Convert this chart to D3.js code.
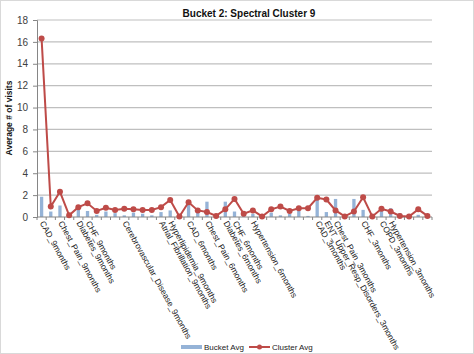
<!DOCTYPE html>
<html>
<head>
<meta charset="utf-8">
<script src="https://cdn.jsdelivr.net/npm/d3@7"></script>
<style>
  body { margin: 0; background: #fff; }
  svg { font-family: "Liberation Sans", Arial, sans-serif; }
</style>
</head>
<body>
<div class="cluster-chart"></div>
<script>

// category names (blank ones have no label on the axis)
var categories = [
  "CAD_9months", "", "Chest_Pain_9months", "", "Diabetes_9months", "CHF_9months", "", "", "",
  "Cerebrovascular_Disease_9months", "", "", "", "Atrial_Fibrillation_9months", "Hyperlipidemia_9months",
  "", "CAD_6months", "", "Chest_Pain_6months", "", "Diabetes_6months", "CHF_6months", "",
  "Hypertension_6months", "", "", "", "", "", "", "CAD_3months", "ENT_Upper_Resp_Disorders_3months",
  "Chest_Pain_3months", "", "", "CHF_3months", "", "COPD_3months", "Hypertension_3months", "", "", "", ""
];

var bucketAvg = [
  1.85, 0.5, 1.05, 0.1, 0.75, 0.55, 0.2, 0.5, 0.35, 0.15, 0.4, 0.3, 0.15, 0.45, 0.6,
  0.05, 1.1, 0.4, 1.4, 0.1, 1.4, 0.5, 0.1, 0.3, 0.05, 0.4, 0.15, 0.3, 0.55, 0.1,
  1.85, 0.45, 1.65, 0.05, 1.65, 0.65, 0.05, 0.55, 0.8, 0.35, 0.1, 0.2, 0.05
];

var clusterAvg = [
  16.3, 0.95, 2.3, 0.15, 0.9, 1.25, 0.55, 0.85, 0.65, 0.75, 0.7, 0.65, 0.65, 0.9, 1.55,
  0.05, 1.35, 0.6, 0.45, 0.1, 0.7, 1.65, 0.3, 0.6, 0.05, 0.7, 0.95, 0.55, 0.8, 0.8,
  1.75, 1.6, 0.6, 0.05, 0.5, 1.8, 0.05, 0.75, 0.5, 0.1, 0.05, 0.7, 0.1
];

var yTicks = [0, 2, 4, 6, 8, 10, 12, 14, 16, 18];
var seriesNames = ["Bucket Avg", "Cluster Avg"];

var barColor = "#95b3d7";
var lineColor = "#be4b48";

var width = 474, height = 354;
var margin = {top: 20, right: 42, bottom: 137, left: 37};

var svg = d3.select(".cluster-chart")
  .append("svg")
    .attr("width", width)
    .attr("height", height);

// chart area outline
svg.append("rect")
  .attr("x", 0.5).attr("y", 0.5)
  .attr("width", width - 1).attr("height", height - 1)
  .attr("fill", "#fff")
  .attr("stroke", "#d9d9d9");

var x = d3.scaleBand()
  .domain(d3.range(categories.length))
  .range([margin.left, width - margin.right]);

var y = d3.scaleLinear()
  .domain([0, 18])
  .range([height - margin.bottom, margin.top]);

// gridlines
svg.append("g")
  .selectAll("line")
  .data(yTicks.filter(function(d) { return d > 0; }))
  .enter()
  .append("line")
    .attr("x1", margin.left)
    .attr("x2", width - margin.right)
    .attr("y1", function(d) { return y(d); })
    .attr("y2", function(d) { return y(d); })
    .attr("stroke", "#bfbfbf")
    .attr("stroke-width", 1.2);

// y axis
var yAxis = svg.append("g")
  .attr("transform", "translate(" + margin.left + ",0)")
  .call(d3.axisLeft(y).tickValues(yTicks).tickSize(4).tickPadding(5));
yAxis.select(".domain").attr("stroke", "#868686");
yAxis.selectAll(".tick line").attr("stroke", "#868686");
yAxis.selectAll("text").attr("font-size", "10px").attr("fill", "#404040");

// bars
svg.append("g")
  .selectAll("rect")
  .data(bucketAvg)
  .enter()
  .append("rect")
    .attr("x", function(d, i) { return x(i) + x.bandwidth() * 0.32; })
    .attr("y", function(d) { return y(d); })
    .attr("width", x.bandwidth() * 0.36)
    .attr("height", function(d) { return y(0) - y(d); })
    .attr("fill", barColor);

// x axis line + ticks between categories
var xAxis = svg.append("g");
xAxis.append("line")
  .attr("x1", margin.left).attr("x2", width - margin.right)
  .attr("y1", y(0)).attr("y2", y(0))
  .attr("stroke", "#868686");
xAxis.selectAll(".cat-tick")
  .data(d3.range(categories.length + 1))
  .enter()
  .append("line")
    .attr("class", "cat-tick")
    .attr("x1", function(d) { return margin.left + d * x.step(); })
    .attr("x2", function(d) { return margin.left + d * x.step(); })
    .attr("y1", y(0))
    .attr("y2", y(0) + 3)
    .attr("stroke", "#868686");

xAxis.selectAll(".cat-label")
  .data(categories)
  .enter()
  .append("text")
    .attr("class", "cat-label")
    .attr("transform", function(d, i) {
      return "translate(" + (x(i) + x.bandwidth() / 2 - 2) + "," + (y(0) + 6) + ") rotate(61)";
    })
    .attr("font-size", "8.4px")
    .attr("fill", "#222")
    .text(function(d) { return d; });

// line + markers
var line = d3.line()
  .x(function(d, i) { return x(i) + x.bandwidth() / 2; })
  .y(function(d) { return y(d); });

svg.append("path")
  .datum(clusterAvg)
  .attr("d", line)
  .attr("fill", "none")
  .attr("stroke", lineColor)
  .attr("stroke-width", 2);

svg.append("g")
  .selectAll("circle")
  .data(clusterAvg)
  .enter()
  .append("circle")
    .attr("cx", function(d, i) { return x(i) + x.bandwidth() / 2; })
    .attr("cy", function(d) { return y(d); })
    .attr("r", 3)
    .attr("fill", lineColor);

// title
svg.append("text")
  .attr("x", 249)
  .attr("y", 17)
  .attr("text-anchor", "middle")
  .attr("font-size", "10px")
  .attr("font-weight", "bold")
  .attr("fill", "#111")
  .text("Bucket 2: Spectral Cluster 9");

// y axis title
svg.append("text")
  .attr("transform", "translate(12,118) rotate(-90)")
  .attr("text-anchor", "middle")
  .attr("font-size", "8.5px")
  .attr("font-weight", "bold")
  .attr("fill", "#111")
  .text("Average # of visits");

// legend
var legend = svg.append("g");
legend.append("rect")
  .attr("x", 181).attr("y", 345)
  .attr("width", 21).attr("height", 4)
  .attr("fill", barColor);
legend.append("text")
  .attr("x", 204).attr("y", 350)
  .attr("font-size", "8px")
  .attr("fill", "#222")
  .text(seriesNames[0]);
legend.append("line")
  .attr("x1", 249).attr("x2", 270)
  .attr("y1", 347).attr("y2", 347)
  .attr("stroke", lineColor)
  .attr("stroke-width", 2);
legend.append("circle")
  .attr("cx", 259.5).attr("cy", 347).attr("r", 2.5)
  .attr("fill", lineColor);
legend.append("text")
  .attr("x", 272).attr("y", 350)
  .attr("font-size", "8px")
  .attr("fill", "#222")
  .text(seriesNames[1]);

</script>
</body>
</html>
